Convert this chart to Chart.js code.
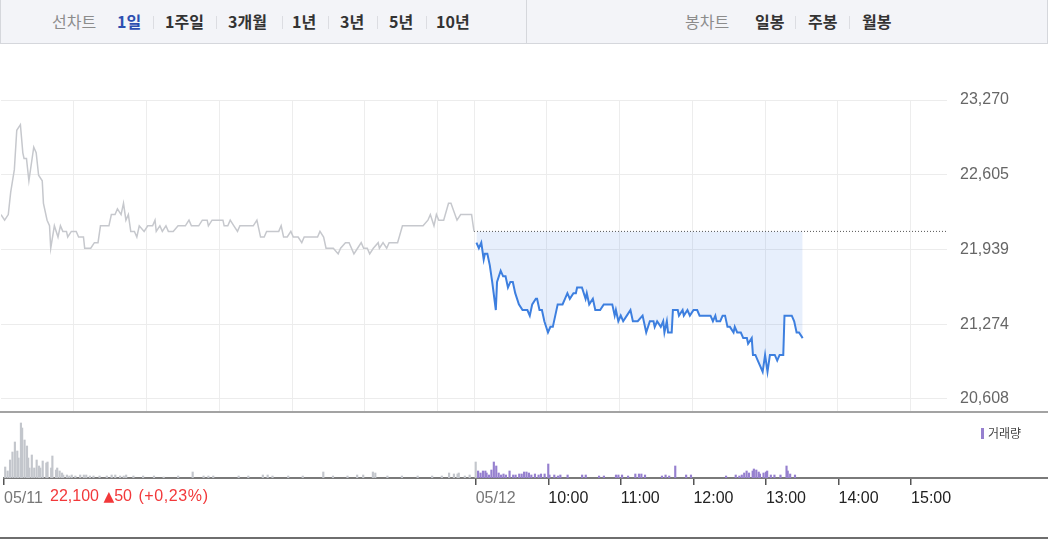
<!DOCTYPE html>
<html lang="ko">
<head>
<meta charset="utf-8">
<script src="https://cdn.jsdelivr.net/npm/chart.js@4.4.1/dist/chart.umd.min.js"></script>
<style>
  body { margin: 0; width: 1048px; height: 540px; background: #fff; position: relative; overflow: hidden;
         font-family: 'Liberation Sans', Arial, sans-serif; }
  .tabbox { position: absolute; top: 0; height: 44px; background: #f3f4f8; border: 1px solid #d5d7dc;
            border-top: none; box-sizing: border-box; }
  .tab { position: absolute; top: 0; font: bold 16px 'Noto Sans CJK KR', sans-serif; line-height: 43px; color: #333; white-space: nowrap; }
  .tab.title { color: #8c8c8c; font-weight: normal; }
  .tab.on { color: #2d4fb0; }
  .sep { position: absolute; top: 16px; width: 1px; height: 13px; background: #dcdde2; }
  canvas { position: absolute; left: 0; }
  .hline { position: absolute; left: 0; width: 1048px; }
  #chg { position: absolute; left: 50px; top: 488px; font-size: 16px; line-height: 16px; color: #f2383a; white-space: nowrap; }
  #chg .tri { font-size: 14px; font-family: 'DejaVu Sans', sans-serif; }
  #chg .pct { letter-spacing: 0.6px; margin-left: 2px; }
  #volkey { position: absolute; left: 981px; top: 425px; font: 12px 'Noto Sans CJK KR', sans-serif; color: #444; line-height: 15px; }
  #volkey i { display: inline-block; width: 3px; height: 11px; background: #9680cf; margin-right: 4px; vertical-align: -1px; }
</style>
</head>
<body>
<div class="tabbox" style="left:0;width:527px"></div>
<div class="tabbox" style="left:526px;width:522px"></div>
<span class="tab title" style="left:52px">선차트</span>
<span class="tab on" style="left:117px">1일</span>
<span class="sep" style="left:153px"></span>
<span class="tab" style="left:165px">1주일</span>
<span class="sep" style="left:216px"></span>
<span class="tab" style="left:228px">3개월</span>
<span class="sep" style="left:282px"></span>
<span class="tab" style="left:292px">1년</span>
<span class="sep" style="left:328px"></span>
<span class="tab" style="left:340px">3년</span>
<span class="sep" style="left:377px"></span>
<span class="tab" style="left:389px">5년</span>
<span class="sep" style="left:426px"></span>
<span class="tab" style="left:436px">10년</span>
<span class="tab title" style="left:685px">봉차트</span>
<span class="tab" style="left:755px">일봉</span>
<span class="sep" style="left:795px"></span>
<span class="tab" style="left:808px">주봉</span>
<span class="sep" style="left:849px"></span>
<span class="tab" style="left:862px">월봉</span>

<canvas id="price" width="1048" height="380" style="top:60px"></canvas>
<div class="hline" style="top:411px;height:2px;background:#a3a3a3"></div>
<canvas id="vol" width="1048" height="128" style="top:412px"></canvas>
<div class="hline" style="top:537px;height:2px;background:#6e6e6e"></div>
<div id="chg">22,100 <span class="tri">▲</span>50 <span class="pct">(+0,23%)</span></div>
<div id="volkey"><i></i>거래량</div>

<script>
// one trading session = 09:00 ~ 15:30, in minutes
const SESSION = 390;
const prevClose = 22100;

const yTicks = [20608, 21274, 21939, 22605, 23270];
const gridMin = [60, 120, 180, 240, 300, 360, 390, 450, 510, 570, 630, 690, 750];
const xTickMin = [0, 390, 450, 510, 570, 630, 690, 750];
const xTickLabels = ['05/11', '05/12', '10:00', '11:00', '12:00', '13:00', '14:00', '15:00'];

// 05/11, minutes after open
const prevMin = [0, 3, 6, 8, 11, 13, 16, 18, 19, 21,
  23, 27, 29, 31, 34, 35, 38, 40, 41, 44,
  47, 49, 51, 54, 55, 58, 62, 64, 68, 69,
  74, 77, 80, 82, 85, 89, 91, 94, 96, 99,
  101, 103, 105, 107, 110, 112, 114, 118, 121, 125,
  127, 128, 131, 133, 136, 138, 142, 146, 152, 155,
  157, 163, 166, 170, 171, 174, 183, 184, 187, 189,
  192, 195, 197, 208, 211, 214, 217, 219, 229, 231,
  233, 236, 239, 241, 245, 248, 250, 261, 263, 266,
  268, 274, 278, 280, 284, 287, 291, 294, 297, 299,
  302, 304, 307, 311, 312, 315, 318, 320, 327, 331,
  348, 352, 354, 357, 359, 361, 365, 369, 371, 376,
  379, 388, 390];
const prevPrice = [22250, 22200, 22250, 22450, 22650, 23000, 23050, 22800, 22750, 22750,
  22550, 22850, 22800, 22600, 22550, 22350, 22200, 22150, 21950, 22150,
  22050, 22150, 22100, 22100, 22050, 22100, 22100, 22050, 22050, 21950,
  21950, 22000, 22000, 22150, 22150, 22150, 22250, 22250, 22300, 22250,
  22350, 22200, 22250, 22100, 22100, 22050, 22150, 22100, 22150, 22150,
  22200, 22100, 22150, 22100, 22150, 22100, 22100, 22150, 22150, 22200,
  22150, 22150, 22200, 22200, 22150, 22200, 22200, 22150, 22150, 22200,
  22150, 22100, 22150, 22150, 22200, 22050, 22050, 22100, 22100, 22150,
  22050, 22050, 22100, 22050, 22050, 22000, 22050, 22050, 22100, 22050,
  21950, 21950, 21900, 21950, 22000, 22000, 21900, 21950, 22000, 21950,
  21950, 21900, 21950, 22000, 21950, 22000, 21950, 22000, 22000, 22150,
  22150, 22200, 22250, 22150, 22250, 22200, 22200, 22350, 22350, 22200,
  22250, 22250, 22100];

// 05/12, minutes after open
const todayMin = [2, 4, 6, 8, 9, 11, 13, 15, 18, 19,
  22, 24, 26, 28, 30, 32, 34, 37, 40, 44,
  46, 48, 51, 52, 54, 56, 58, 61, 63, 65,
  69, 73, 75, 77, 79, 82, 84, 85, 89, 92,
  93, 95, 98, 100, 104, 107, 114, 116, 117, 119,
  121, 123, 126, 129, 131, 135, 139, 142, 145, 148,
  149, 151, 154, 156, 157, 159, 160, 163, 164, 168,
  169, 172, 173, 176, 178, 181, 184, 186, 195, 197,
  199, 200, 203, 205, 207, 209, 211, 214, 215, 217,
  220, 222, 225, 226, 229, 230, 232, 234, 236, 238,
  240, 242, 244, 248, 250, 252, 255, 256, 262, 264,
  266, 268, 271];
const todayPrice = [22000, 21950, 22000, 21850, 21900, 21900, 21800, 21650, 21400, 21650,
  21750, 21700, 21700, 21600, 21650, 21650, 21550, 21450, 21400, 21400,
  21350, 21450, 21500, 21500, 21400, 21400, 21300, 21200, 21250, 21250,
  21450, 21450, 21500, 21550, 21500, 21550, 21550, 21600, 21600, 21500,
  21550, 21450, 21500, 21400, 21400, 21450, 21450, 21350, 21400, 21300,
  21350, 21300, 21350, 21400, 21300, 21300, 21350, 21200, 21300, 21300,
  21250, 21300, 21250, 21300, 21200, 21300, 21200, 21200, 21400, 21400,
  21350, 21400, 21350, 21400, 21350, 21400, 21400, 21350, 21350, 21300,
  21350, 21300, 21300, 21350, 21350, 21250, 21250, 21200, 21250, 21200,
  21200, 21150, 21150, 21100, 21150, 21000, 21000, 20950, 20900, 20850,
  21000, 20850, 21000, 21000, 20950, 21000, 21000, 21350, 21350, 21300,
  21200, 21200, 21150];

// volume, thousand shares
const prevVolMin = [1, 3, 5, 7, 9, 11, 12, 14, 15, 17,
  19, 20, 21, 23, 25, 27, 29, 30, 32, 35,
  36, 39, 40, 43, 44, 46, 48, 49, 52, 54,
  56, 59, 63, 66, 68, 71, 74, 79, 85, 89,
  92, 96, 99, 101, 107, 115, 124, 132, 144, 156,
  165, 169, 173, 194, 202, 214, 218, 222, 235, 247,
  264, 272, 284, 292, 297, 305, 307, 317, 329, 342,
  354, 362, 368, 372, 375, 376, 381, 385, 390];
const prevVol = [11, 7, 18, 26, 36, 27, 20, 55, 50, 38,
  32, 20, 10, 23, 10, 18, 12, 10, 17, 15,
  16, 10, 22, 8, 10, 7, 5, 3, 3, 2,
  3, 2, 3, 3, 3, 2, 2, 2, 2, 3,
  3, 2, 2, 3, 2, 2, 2, 1, 2, 6,
  2, 2, 2, 2, 2, 3, 3, 2, 2, 2,
  6, 2, 2, 3, 3, 6, 5, 2, 2, 2,
  2, 2, 5, 4, 4, 5, 2, 3, 16];
const todayVolMin = [2, 4, 6, 8, 9, 11, 13, 15, 17, 19,
  21, 23, 25, 28, 31, 33, 36, 38, 40, 42,
  44, 46, 49, 52, 54, 57, 60, 61, 65, 68,
  70, 76, 88, 91, 102, 106, 116, 118, 121, 126,
  132, 135, 137, 140, 154, 157, 160, 165, 174, 178,
  207, 215, 218, 220, 222, 224, 226, 229, 230, 232,
  234, 235, 238, 240, 241, 244, 247, 252, 257, 258,
  260, 264];
const todayVol = [7, 5, 7, 7, 5, 3, 8, 16, 12, 5,
  3, 4, 3, 7, 3, 3, 4, 4, 6, 6,
  5, 3, 4, 3, 4, 4, 14, 3, 3, 2,
  3, 3, 3, 3, 2, 2, 3, 3, 3, 2,
  4, 4, 4, 3, 2, 3, 2, 12, 3, 3,
  2, 3, 2, 3, 5, 7, 5, 7, 9, 8,
  6, 4, 5, 6, 7, 3, 3, 3, 12, 7,
  4, 3];

const font = { family: "'Liberation Sans', Arial, sans-serif", size: 16 };
const toPts = (mins, vals, shift) => mins.map((m, i) => ({ x: m + shift, y: vals[i] }));

const priceChart = new Chart(document.getElementById('price'), {
  type: 'line',
  data: {
    datasets: [
      { data: toPts(prevMin, prevPrice, 0), borderColor: '#c6c8cd', borderWidth: 1.5, pointRadius: 0 },
      { data: [{ x: SESSION, y: prevClose }, { x: 2 * SESSION, y: prevClose }],
        borderColor: '#555', borderWidth: 1, borderDash: [1, 2], pointRadius: 0 },
      { data: toPts(todayMin, todayPrice, SESSION), borderColor: '#3d7fdf', borderWidth: 2, pointRadius: 0,
        fill: { value: prevClose }, backgroundColor: 'rgba(70,130,230,0.13)' }
    ]
  },
  options: {
    responsive: false, animation: false, events: [],
    layout: { padding: { top: 40, bottom: 30, left: 0, right: 0 } },
    plugins: { legend: { display: false }, tooltip: { enabled: false } },
    scales: {
      x: {
        type: 'linear', min: 0, max: 2 * SESSION,
        afterBuildTicks: s => { s.ticks = gridMin.map(v => ({ value: v })); },
        afterFit: s => { s.height = 0; },
        ticks: { display: false },
        grid: { color: '#ededed', drawTicks: false },
        border: { display: false }
      },
      y: {
        position: 'right', min: 20492, max: 23270,
        afterBuildTicks: s => { s.ticks = yTicks.map(v => ({ value: v })); },
        afterFit: s => { s.width = 101; },
        ticks: { padding: 13, color: '#666', font, callback: v => v.toLocaleString('en-US') },
        grid: { color: '#ececec', drawTicks: false },
        border: { display: false }
      }
    }
  }
});
// pin the plot box to page y 100..412 (canvas top is 60)
const pa = priceChart.chartArea;
priceChart.options.layout.padding.top += 40 - pa.top;
priceChart.options.layout.padding.bottom += pa.bottom - 352;
priceChart.update();

new Chart(document.getElementById('vol'), {
  type: 'bar',
  data: {
    datasets: [
      { data: toPts(prevVolMin, prevVol, 0), backgroundColor: '#c3c6cc', barThickness: 1.5, grouped: false },
      { data: toPts(todayVolMin, todayVol, SESSION), backgroundColor: '#9680cf', barThickness: 1.5, grouped: false }
    ]
  },
  options: {
    responsive: false, animation: false, events: [],
    layout: { padding: { top: 2, bottom: 0, left: 0, right: 0 } },
    plugins: { legend: { display: false }, tooltip: { enabled: false } },
    scales: {
      x: {
        type: 'linear', offset: false, min: 0, max: 2 * SESSION * 1048 / 947,
        afterBuildTicks: s => { s.ticks = xTickMin.map(v => ({ value: v })); },
        afterFit: s => { s.height = 62; },
        ticks: {
          autoSkip: false, maxRotation: 0, align: 'start', padding: 4, font,
          color: ctx => (ctx.index < 2 ? '#777' : '#222'),
          callback: (v, i) => xTickLabels[i]
        },
        grid: { offset: false, drawOnChartArea: false, drawTicks: true, tickLength: 7, tickColor: '#555', lineWidth: 1.5 },
        border: { display: true, color: '#7a7a7a', width: 2 }
      },
      y: { display: false, min: 0, max: 64 }
    }
  }
});
</script>
</body>
</html>
